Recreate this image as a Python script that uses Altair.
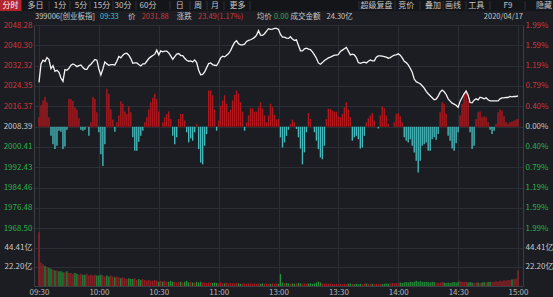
import altair as alt
import pandas as pd
import numpy as np

# ---------------- data ----------------
PREV_CLOSE = 2008.39

price = [
    2025.76, 2033.01, 2034.46, 2033.93, 2035.51, 2034.72, 2031.16, 2032.35, 2030.11, 2030.51,
    2029.71, 2027.48, 2026.16, 2030.77, 2030.51, 2031.30, 2032.48, 2033.01, 2032.61, 2031.95,
    2032.35, 2032.61, 2031.56, 2030.90, 2030.90, 2032.22, 2032.88, 2033.80, 2034.72, 2034.46,
    2031.03, 2028.66, 2031.03, 2033.80, 2033.01, 2032.48, 2032.74, 2032.74, 2032.61, 2034.06,
    2035.90, 2035.38, 2036.43, 2037.09, 2037.22, 2036.43, 2035.11, 2033.27, 2033.40, 2033.40,
    2032.74, 2032.22, 2033.01, 2033.01, 2034.06, 2035.11, 2035.77, 2036.30, 2036.83, 2038.41,
    2036.56, 2038.14, 2037.75, 2038.01, 2038.01, 2037.35, 2036.17, 2034.85, 2035.90, 2036.83,
    2037.09, 2036.30, 2036.30, 2035.25, 2034.46, 2034.06, 2034.19, 2033.80, 2034.59, 2033.53,
    2030.51, 2028.79, 2028.92, 2029.85, 2031.56, 2033.14, 2033.40, 2032.74, 2032.48, 2032.35,
    2033.67, 2035.38, 2036.04, 2035.77, 2036.43, 2037.09, 2038.28, 2039.99, 2041.44, 2042.09,
    2040.91, 2040.51, 2040.51, 2040.78, 2041.83, 2042.23, 2042.49, 2042.88, 2043.41, 2044.33,
    2046.05, 2044.33, 2044.20, 2044.86, 2045.91, 2046.84, 2046.57, 2046.70, 2046.97, 2046.97,
    2046.57, 2044.60, 2043.54, 2043.54, 2043.15, 2043.02, 2043.68, 2042.75, 2042.23, 2042.49,
    2040.25, 2038.14, 2038.14, 2038.93, 2039.20, 2038.80, 2038.67, 2037.75, 2036.56, 2035.25,
    2033.40, 2032.88, 2033.53, 2034.32, 2034.85, 2035.38, 2035.64, 2036.04, 2036.43, 2036.43,
    2036.70, 2037.88, 2038.41, 2038.93, 2039.46, 2038.01, 2036.56, 2036.83, 2036.56, 2035.51,
    2033.53, 2033.27, 2033.53, 2033.67, 2033.40, 2034.06, 2034.59, 2034.19, 2034.19, 2035.64,
    2036.17, 2036.17, 2036.04, 2035.90, 2035.64, 2035.25, 2035.51, 2036.04, 2036.43, 2036.56,
    2036.96, 2036.43, 2035.38, 2034.06, 2033.53, 2032.61, 2031.30, 2029.71, 2027.08, 2026.03,
    2025.63, 2025.24, 2024.45, 2023.53, 2022.21, 2021.29, 2020.50, 2019.71, 2018.92, 2019.18,
    2020.36, 2021.94, 2022.73, 2022.08, 2021.02, 2019.31, 2018.39, 2017.60, 2017.20, 2016.81,
    2016.02, 2018.39, 2019.84, 2021.29, 2022.34, 2020.76, 2017.86, 2017.73, 2018.78, 2019.31,
    2018.92, 2019.97, 2019.71, 2019.31, 2019.71, 2018.92, 2018.52, 2018.52, 2018.52, 2018.52,
    2018.52, 2019.31, 2019.71, 2019.71, 2019.84, 2019.84, 2020.23, 2020.10, 2020.23, 2020.23, 2020.50,
]

osc = [
    3.7, 8.3, 10.3, 11.7, 9.6, 3.7, -3.6, -6.9, -8.8, -7.5,
    -1.6, -2.0, -8.8, -7.8, -1.2, 10.9, 10.9, 10.1, 7.6, 6.7,
    3.3, -1.2, -1.6, -1.2, 0.3, -3.6, 1.7, 11.6, 10.9, 5.7,
    -2.2, -10.8, -15.4, -6.9, 14.9, 12.9, 6.7, 2.8, -2.0, 1.7,
    4.4, 10.0, 9.0, 5.9, 5.0, 8.0, 5.7, -4.2, -9.5, -9.5,
    -5.9, -3.6, -1.6, 1.7, 3.7, 6.7, 9.6, 11.2, 12.9, 10.9,
    5.9, 0.0, 1.7, 3.7, 5.0, 5.9, 3.0, -3.6, -6.9, -4.2,
    3.0, 5.0, 5.0, 2.4, -2.2, -6.2, -4.6, -5.5, -2.2, 1.1,
    -8.8, -14.1, -14.8, -7.5, -2.9, 14.2, 14.2, 12.3, 6.7, -1.6,
    2.4, 8.3, 10.3, 12.3, 9.0, 5.7, 6.7, 10.3, 12.5, 14.2,
    12.9, 9.6, 5.9, -1.6, 1.7, 4.4, 7.2, 7.2, 5.9, 5.9,
    7.6, 9.6, 7.2, 4.4, 1.7, 4.4, 9.0, 7.6, 4.6, 2.8,
    3.0, -4.2, -8.2, -6.2, -3.6, -1.2, 1.1, 2.8, 1.7, -0.9,
    -4.2, -8.6, -14.8, -10.1, -2.2, 5.4, 3.0, 0.0, -2.2, -5.5,
    -8.8, -12.1, -12.8, -7.5, 3.0, 7.0, 7.0, 6.3, 5.9, 5.9,
    4.0, 3.7, 5.0, 7.6, 9.6, 6.7, 3.7, -5.5, -4.2, -3.6,
    -4.9, -8.6, -8.2, -3.6, 1.7, 3.3, 4.4, 5.4, 2.4, 0.0,
    -0.7, 4.4, 8.0, 7.2, 4.4, 1.1, 0.0, 0.0, 1.7, 5.0,
    5.4, 4.1, 1.7, -4.2, -5.5, -6.2, -4.9, -7.5, -10.1, -13.4,
    -18.0, -13.4, -7.5, -6.9, -6.2, -9.5, -9.5, -4.9, -4.2, -5.1,
    -2.9, 5.7, 9.6, 9.0, 5.0, -3.6, -5.5, -8.6, -9.5, -6.5,
    -2.2, 4.4, 9.0, 13.3, 14.2, 10.3, -2.2, -8.8, -7.5, 3.0,
    5.7, 5.9, 3.7, 4.1, 3.7, 1.7, -1.2, -2.9, -1.6, 1.1,
    5.7, 6.7, 6.3, 4.1, 1.7, 1.1, 1.7, 2.0, 2.4, 2.8, 3.0,
]

volume = [
    62, 27, 25, 23, 22, 21, 20, 19, 18, 18,
    17, 17, 16, 16, 17, 15, 15, 14, 15, 14,
    13, 14, 13, 13, 14, 12, 13, 12, 13, 12,
    12, 13, 12, 11, 12, 11, 12, 11, 10, 11,
    10, 9, 10, 9, 8, 9, 8, 8, 9, 7,
    8, 7, 8, 7, 6, 7, 6, 6, 7, 6,
    5, 6, 5, 6, 5, 5, 6, 5, 5, 4,
    5, 5, 4, 5, 6, 4, 5, 4, 4, 5,
    4, 5, 4, 4, 3.5, 4, 4, 3.5, 4, 3.5,
    3, 4, 3.5, 3, 4, 3, 3.5, 3, 3, 3.5,
    3, 2.5, 3, 3, 2.5, 3, 3, 2.5, 3, 2.5,
    3, 2.5, 3, 2.5, 3, 2.5, 2.5, 3, 2.5, 3,
    2.5, 14, 4, 3, 3.5, 3, 2.5, 3, 2.5, 3,
    3.5, 3, 2.5, 3, 2.5, 3, 3, 2.5, 3, 4,
    5, 4, 3, 2.5, 3, 2.5, 3, 2.5, 2, 2.5,
    2, 2.5, 2, 2.5, 2, 2.5, 3, 2.5, 2, 2.5,
    2, 2.5, 2, 2.5, 3, 2.5, 2, 2.5, 2, 2.5,
    2, 2.5, 2, 2.5, 3, 2.5, 3, 3.5, 3, 3.5,
    3, 4, 3.5, 4, 4.5, 4, 5, 4.5, 5, 6,
    5, 5.5, 5, 4.5, 5, 4.5, 4, 5, 4.5, 4,
    3.5, 4, 4.5, 4, 3.5, 4, 3.5, 4, 4.5, 4,
    5, 5.5, 5, 4.5, 5, 4, 4.5, 4, 3.5, 4,
    4, 3.5, 4, 4.5, 4, 4.5, 5, 4.5, 5, 5.5,
    5, 6, 5.5, 6.5, 6, 7, 6.5, 7.5, 8, 8.5, 18,
]

time_labels = ["09:30", "10:00", "10:30", "11:00", "13:00", "13:30", "14:00", "14:30", "15:00"]
price_ticks = [2048.28, 2040.30, 2032.32, 2024.35, 2016.37, 2008.39, 2000.41, 1992.43, 1984.46, 1976.48, 1968.50]
vol_ticks = [22.20, 44.41]

tabs = ["分时", "多日", "1分", "5分", "15分", "30分", "60分", "日", "周", "月", "更多"]
tools = ["超级复盘", "竞价", "叠加", "画线", "工具", "F9", "隐藏"]
info_texts = ["399006[创业板指]", "09:33", "价", "2031.88", "涨跌", "23.49(1.17%)",
              "均价", "0.00", "成交金额", "24.30亿"]
date_text = "2020/04/17"

# ---------------- style ----------------
FONT = "Noto Sans CJK SC"
BG = "#1b1d22"
GRID = "#2c2f35"
AXISLINE = "#3b3e45"
RED_LBL = "#d0363b"
GRN_LBL = "#2fb04a"
WHITE_LBL = "#c8c8c8"
BAR_RED = "#b0181e"
BAR_TEAL = "#45b8ba"
VOL_RED = "#9c2228"
VOL_GRN = "#24913a"

W, H = 489, 261
PL, PT, PR, PB = 34, 25, 30, 11

df = pd.DataFrame({"m": np.arange(len(price)), "price": price, "osc": osc, "vol": volume})
df["top"] = PREV_CLOSE + df["osc"]
df["base"] = PREV_CLOSE
df["dir"] = np.where(df["osc"] >= 0, "up", "down")
chg = df["price"].diff().fillna(1.0)
df["vdir"] = np.where(chg >= 0, "vup", "vdown")

ticks_df = pd.DataFrame({"p": price_ticks})
vticks_df = pd.DataFrame({"v": vol_ticks})

PRICE_DOMAIN = [1945.86, 2048.28]
VOL_DOMAIN = [0, 301.3]

xscale = alt.Scale(domain=[0, 240], nice=False, zero=False)
label_expr_time = "[" + ",".join("'%s'" % t for t in time_labels) + "][round(datum.value/30)]"
X = alt.X("m:Q", scale=xscale, title=None,
          axis=alt.Axis(values=list(range(0, 241, 30)), labelExpr=label_expr_time,
                        grid=True, gridColor=GRID, ticks=False, domain=True,
                        domainColor=AXISLINE, labelColor="#b4b4b4", labelFont=FONT,
                        labelFontSize=8, labelPadding=2, labelFlush=False))

pscale = alt.Scale(domain=PRICE_DOMAIN, nice=False, zero=False)
vscale = alt.Scale(domain=VOL_DOMAIN, nice=False, zero=False)

price_color = {"condition": [{"test": "datum.value > 2009", "value": RED_LBL},
                             {"test": "datum.value > 2008", "value": WHITE_LBL}],
               "value": GRN_LBL}

line = alt.Chart(df).mark_line(color="#f4f4f4", strokeWidth=1.3).encode(
    x=X,
    y=alt.Y("price:Q", scale=pscale, title=None,
            axis=alt.Axis(orient="left", values=price_ticks, format=".2f", grid=True,
                          gridColor=GRID, ticks=False, domain=True, domainColor=AXISLINE,
                          labelColor=price_color, labelFont=FONT, labelFontSize=8,
                          labelPadding=2, labelFlush=False)),
)

bars = alt.Chart(df).mark_bar(size=1.4).encode(
    x=X,
    y=alt.Y("top:Q", scale=pscale, title=None, axis=None),
    y2="base:Q",
    color=alt.Color("dir:N", scale=alt.Scale(domain=["up", "down"], range=[BAR_RED, BAR_TEAL]), legend=None),
)

pct_axis = alt.Chart(ticks_df).mark_point(opacity=0).encode(
    y=alt.Y("p:Q", scale=pscale, title=None,
            axis=alt.Axis(orient="right", values=price_ticks,
                          labelExpr="format(abs(datum.value-%s)/%s*100, '.2f') + '%%'" % (PREV_CLOSE, PREV_CLOSE),
                          grid=False, ticks=False, domain=True, domainColor=AXISLINE,
                          labelColor=price_color, labelFont=FONT, labelFontSize=8,
                          labelPadding=2, labelFlush=False)),
)

vol_bars = alt.Chart(df).mark_bar(size=1.3).encode(
    x=X,
    y=alt.Y("vol:Q", scale=vscale, title=None,
            axis=alt.Axis(orient="left", values=vol_ticks,
                          labelExpr="format(datum.value, '.2f') + '亿'",
                          grid=True, gridColor=GRID, ticks=False, domain=False,
                          labelColor=WHITE_LBL, labelFont=FONT, labelFontSize=8,
                          labelPadding=2, labelFlush=False)),
    color=alt.Color("vdir:N", scale=alt.Scale(domain=["vup", "vdown"], range=[VOL_RED, VOL_GRN]), legend=None),
)

vol_axis_r = alt.Chart(vticks_df).mark_point(opacity=0).encode(
    y=alt.Y("v:Q", scale=vscale, title=None,
            axis=alt.Axis(orient="right", values=vol_ticks,
                          labelExpr="format(datum.value, '.2f') + '亿'",
                          grid=False, ticks=False, domain=False,
                          labelColor=WHITE_LBL, labelFont=FONT, labelFontSize=8,
                          labelPadding=2, labelFlush=False)),
)


# ---------------- header decorations ----------------
def one():
    return alt.Data(values=[{"k": 0}])


def txt(s, x, y, color, align="center", size=8):
    return alt.Chart(one()).mark_text(
        text=s, align=align, baseline="middle", font=FONT, fontSize=size, color=color
    ).encode(x=alt.value(x - PL), y=alt.value(y - PT))


def rect(x1, x2, y1, y2, color):
    return alt.Chart(one()).mark_rect(color=color).encode(
        x=alt.value(x1 - PL), x2=alt.value(x2 - PL), y=alt.value(y1 - PT), y2=alt.value(y2 - PT))


def vrule(x, y1, y2, color):
    return alt.Chart(one()).mark_rule(color=color, strokeWidth=1).encode(
        x=alt.value(x - PL), y=alt.value(y1 - PT), y2=alt.value(y2 - PT))


header = [rect(0, 553, 0, 11, "#141519"), rect(0, 21.5, 0, 11, "#b3232a")]
tab_x = [10.5, 35.5, 60, 81, 101.7, 123, 148, 179.7, 198, 215, 237.5]
for i, (t, x) in enumerate(zip(tabs, tab_x)):
    header.append(txt(t, x, 5.8, "#ffffff" if i == 0 else "#c4c4c4"))
for sx in [49, 70, 90, 113, 136, 170, 190, 207, 224, 250]:
    header.append(vrule(sx, 1, 10, "#2e3036"))
tool_x = [376.5, 406.3, 433, 453, 476.3, 508, 544]
for t, x in zip(tools, tool_x):
    header.append(txt(t, x, 5.8, "#c4c4c4"))
for sx in [359, 395, 420, 443, 466, 490, 525]:
    header.append(vrule(sx, 1, 10, "#2e3036"))

info_x = [35, 100, 128, 141.7, 176.7, 198, 256.7, 274, 290.5, 326.5]
info_c = ["#c8c8c8", "#34c4c8", "#c8c8c8", RED_LBL, "#c8c8c8", RED_LBL,
          "#c8c8c8", GRN_LBL, "#c8c8c8", "#c8c8c8"]
for t, x, c in zip(info_texts, info_x, info_c):
    header.append(txt(t, x, 16.5, c, align="left", size=7.5))
header.append(txt(date_text, 523, 16.5, "#c8c8c8", align="right", size=7.5))

chart = alt.layer(vol_bars, bars, line, pct_axis, vol_axis_r, *header).resolve_scale(
    y="independent", color="independent").resolve_axis(y="independent").properties(
    width=W, height=H,
    padding={"left": PL, "top": PT, "right": PR, "bottom": PB},
    autosize=alt.AutoSizeParams(type="none"),
    background=BG,
).configure_view(stroke=None)

chart.save("out.html", embed_options={"renderer": "svg", "actions": False})
